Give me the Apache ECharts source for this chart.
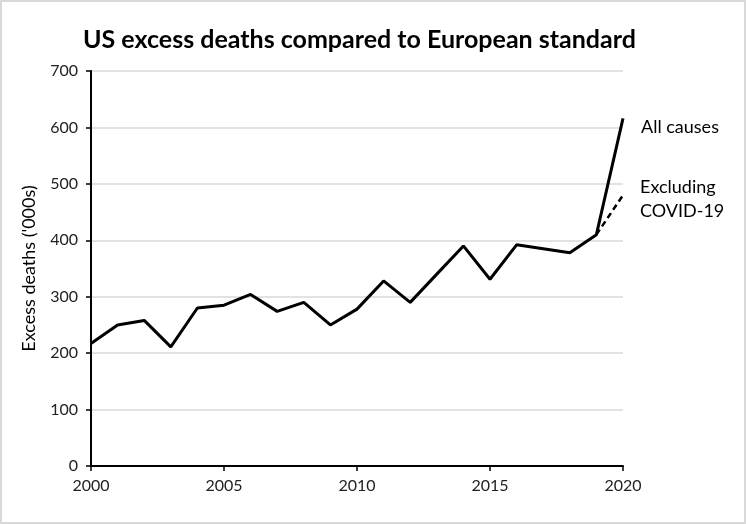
<!DOCTYPE html>
<html><head><meta charset="utf-8">
<script src="https://cdn.jsdelivr.net/npm/echarts@6/dist/echarts.min.js"></script>
<style>
html,body{margin:0;padding:0;background:#fff;}
#c{width:746px;height:524px;box-sizing:border-box;border:2px solid #d9d9d9;}
</style></head>
<body><div id="c"></div>
<script>
var years = [2000,2001,2002,2003,2004,2005,2006,2007,2008,2009,2010,2011,2012,2013,2014,2015,2016,2017,2018,2019,2020];
var allCauses = [217,250,258,211,280,285,304,274,290,250,278,328,290,340,390,331,392,385,378,410,616];
var exclCovid = [null,null,null,null,null,null,null,null,null,null,null,null,null,null,null,null,null,null,null,410,480];
var yTicks = [0,100,200,300,400,500,600,700];
var xTicks = [2000,2005,2010,2015,2020];

var font = 'Lato, "Open Sans", sans-serif';
var chart = echarts.init(document.getElementById('c'));
chart.setOption({
  animation:false,
  title:{text:'US excess deaths compared to European standard', left:76, top:20,
    textStyle:{fontFamily:font, fontSize:25, fontWeight:'bold', color:'#000'}},
  grid:{left:89, right:121, top:69, bottom:56},
  xAxis:{type:'value', min:2000, max:2020, interval:5,
    axisLine:{lineStyle:{color:'#000', width:2}},
    axisTick:{show:true, length:5, lineStyle:{color:'#000', width:1.5}},
    axisLabel:{fontFamily:font, fontSize:16, color:'#222', margin:12,
      formatter:function(v){return xTicks.indexOf(v)>=0 ? String(v) : '';}},
    splitLine:{show:false}},
  yAxis:{type:'value', min:0, max:700, interval:100,
    name:"Excess deaths ('000s)", nameLocation:'middle', nameGap:53, nameRotate:90,
    nameTextStyle:{fontFamily:font, fontSize:18, color:'#000'},
    axisLine:{show:true, lineStyle:{color:'#000', width:2}},
    axisTick:{show:true, length:5, inside:false, lineStyle:{color:'#000', width:1.5}},
    axisLabel:{fontFamily:font, fontSize:16, color:'#222', margin:13,
      formatter:function(v){return yTicks.indexOf(v)>=0 ? String(v) : '';}},
    splitLine:{lineStyle:{color:'#d9d9d9', width:1.5}}},
  series:[
    {type:'line', name:'All causes', data:years.map(function(y,i){return [y,allCauses[i]];}),
      symbol:'none', lineStyle:{color:'#000', width:3}, z:3,
      endLabel:{show:true, formatter:'All causes', fontFamily:font, fontSize:18, color:'#000', offset:[10,9]}},
    {type:'line', name:'Excluding COVID-19', data:years.map(function(y,i){return [y,exclCovid[i]];}),
      symbol:'none', lineStyle:{color:'#000', width:2.5, type:[6,4]}, z:2,
      endLabel:{show:true, formatter:'Excluding\nCOVID-19', fontFamily:font, fontSize:18, color:'#000', lineHeight:24, offset:[9,4]}}
  ]
});
</script></body></html>
